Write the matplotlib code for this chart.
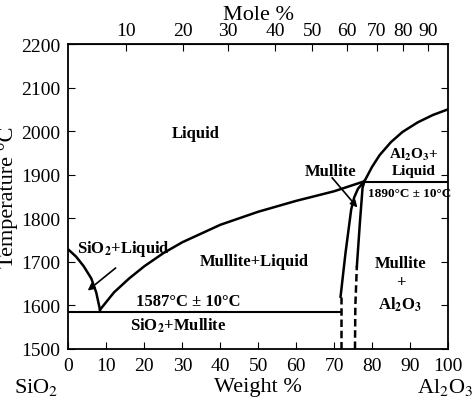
import matplotlib
matplotlib.use("Agg")
import matplotlib.pyplot as plt
import numpy as np

plt.rcParams['font.family'] = ['Liberation Serif', 'DejaVu Serif']
plt.rcParams['mathtext.fontset'] = 'stix'

sio2_liq_x = [0, 2, 4, 6, 7.3, 8.3]
sio2_liq_t = [1728, 1712, 1690, 1662, 1630, 1590]
mul_liq_x = [8.3, 12, 16, 20, 25, 30, 40, 50, 60, 70, 78]
mul_liq_t = [1590, 1630, 1662, 1690, 1720, 1745, 1785, 1815, 1840, 1862, 1885]
al_liq_x = [78, 80, 82, 85, 88, 92, 96, 100]
al_liq_t = [1885, 1918, 1945, 1975, 1998, 2020, 2037, 2050]
eut_x = [0, 71.7]; eut_t = 1586
per_x = [78, 100]; per_t = 1884
mul_left_x = [71.7, 73, 74.5, 75.3, 76.3, 78]
mul_left_t = [1620, 1720, 1820, 1848, 1868, 1885]
mul_left_dash_x = [71.7, 71.7]; mul_left_dash_t = [1500, 1620]
mul_right_x = [76, 76.8, 77.5, 78]
mul_right_t = [1690, 1790, 1870, 1885]
mul_right_dash_x = [75.5, 75.6, 76]; mul_right_dash_t = [1500, 1600, 1690]
mole_ticks = [10, 20, 30, 40, 50, 60, 70, 80, 90]
mole_pos_wt = [15.2, 30.1, 42.1, 54.4, 64.3, 73.3, 81.2, 88.2, 94.8]

fig = plt.figure(figsize=(4.74, 4.02), dpi=100)
ax = fig.add_axes([0.1445, 0.1294, 0.8005, 0.7586])
lw = 1.8
ax.plot(sio2_liq_x, sio2_liq_t, 'k', lw=lw)
ax.plot(mul_liq_x, mul_liq_t, 'k', lw=lw)
ax.plot(al_liq_x, al_liq_t, 'k', lw=lw)
ax.plot(eut_x, [eut_t]*2, 'k', lw=1.5)
ax.plot(per_x, [per_t]*2, 'k', lw=1.5)
ax.plot(mul_left_x, mul_left_t, 'k', lw=lw)
ax.plot(mul_left_dash_x, mul_left_dash_t, 'k--', lw=lw, dashes=(3, 1.5))
ax.plot(mul_right_x, mul_right_t, 'k', lw=lw)
ax.plot(mul_right_dash_x, mul_right_dash_t, 'k--', lw=lw, dashes=(3, 1.5))

ax.set_xlim(0, 100); ax.set_ylim(1500, 2200)
ax.set_xticks(range(0, 101, 10)); ax.set_yticks(range(1500, 2201, 100))
ax.tick_params(direction='in', right=True, length=5, labelsize=14, pad=6)
ax.set_ylabel('Temperature °C', fontsize=16, labelpad=2)
ax.set_xlabel('Weight %', fontsize=16, labelpad=2)
for s in ax.spines.values():
    s.set_linewidth(1.3)
ax2 = ax.secondary_xaxis('top')
ax2.set_xticks(mole_pos_wt)
ax2.set_xticklabels([str(m) for m in mole_ticks])
ax2.tick_params(direction='in', length=5, labelsize=14)
ax2.set_xlabel('Mole %', fontsize=16, labelpad=2)

fig.text(0.03, 0.01, 'SiO$_2$', fontsize=16, ha='left', va='bottom')
fig.text(0.999, 0.01, 'Al$_2$O$_3$', fontsize=16, ha='right', va='bottom')

kw = dict(fontsize=12, fontweight='bold', ha='center', va='center')
ax.text(33.5, 1995, 'Liquid', **kw)
ax.text(14.5, 1731, r'SiO$_\mathbf{2}$+Liquid', **kw)
ax.text(49, 1702, 'Mullite+Liquid', **kw)
ax.text(31.5, 1610, '1587°C ± 10°C', **kw)
ax.text(29, 1555, r'SiO$_\mathbf{2}$+Mullite', **kw)
ax.text(69, 1908, 'Mullite', **kw)
ax.text(91, 1930, 'Al$_\\mathbf{2}$O$_\\mathbf{3}$+\nLiquid', fontsize=11, fontweight='bold', ha='center', va='center', linespacing=1.2)
ax.text(90, 1858, '1890°C ± 10°C', fontsize=9.5, fontweight='bold', ha='center', va='center')
ax.text(87.5, 1650, 'Mullite\n+\nAl$_\\mathbf{2}$O$_\\mathbf{3}$', fontsize=12, fontweight='bold', ha='center', va='center', linespacing=1.3)

ax.annotate('', xy=(4.5, 1630), xytext=(13, 1690),
            arrowprops=dict(arrowstyle='-|>', color='k', lw=1.2, mutation_scale=10))
ax.annotate('', xy=(76.6, 1820), xytext=(69, 1898),
            arrowprops=dict(arrowstyle='-|>', color='k', lw=1.2, mutation_scale=10))

fig.savefig('out.png', dpi=100)
